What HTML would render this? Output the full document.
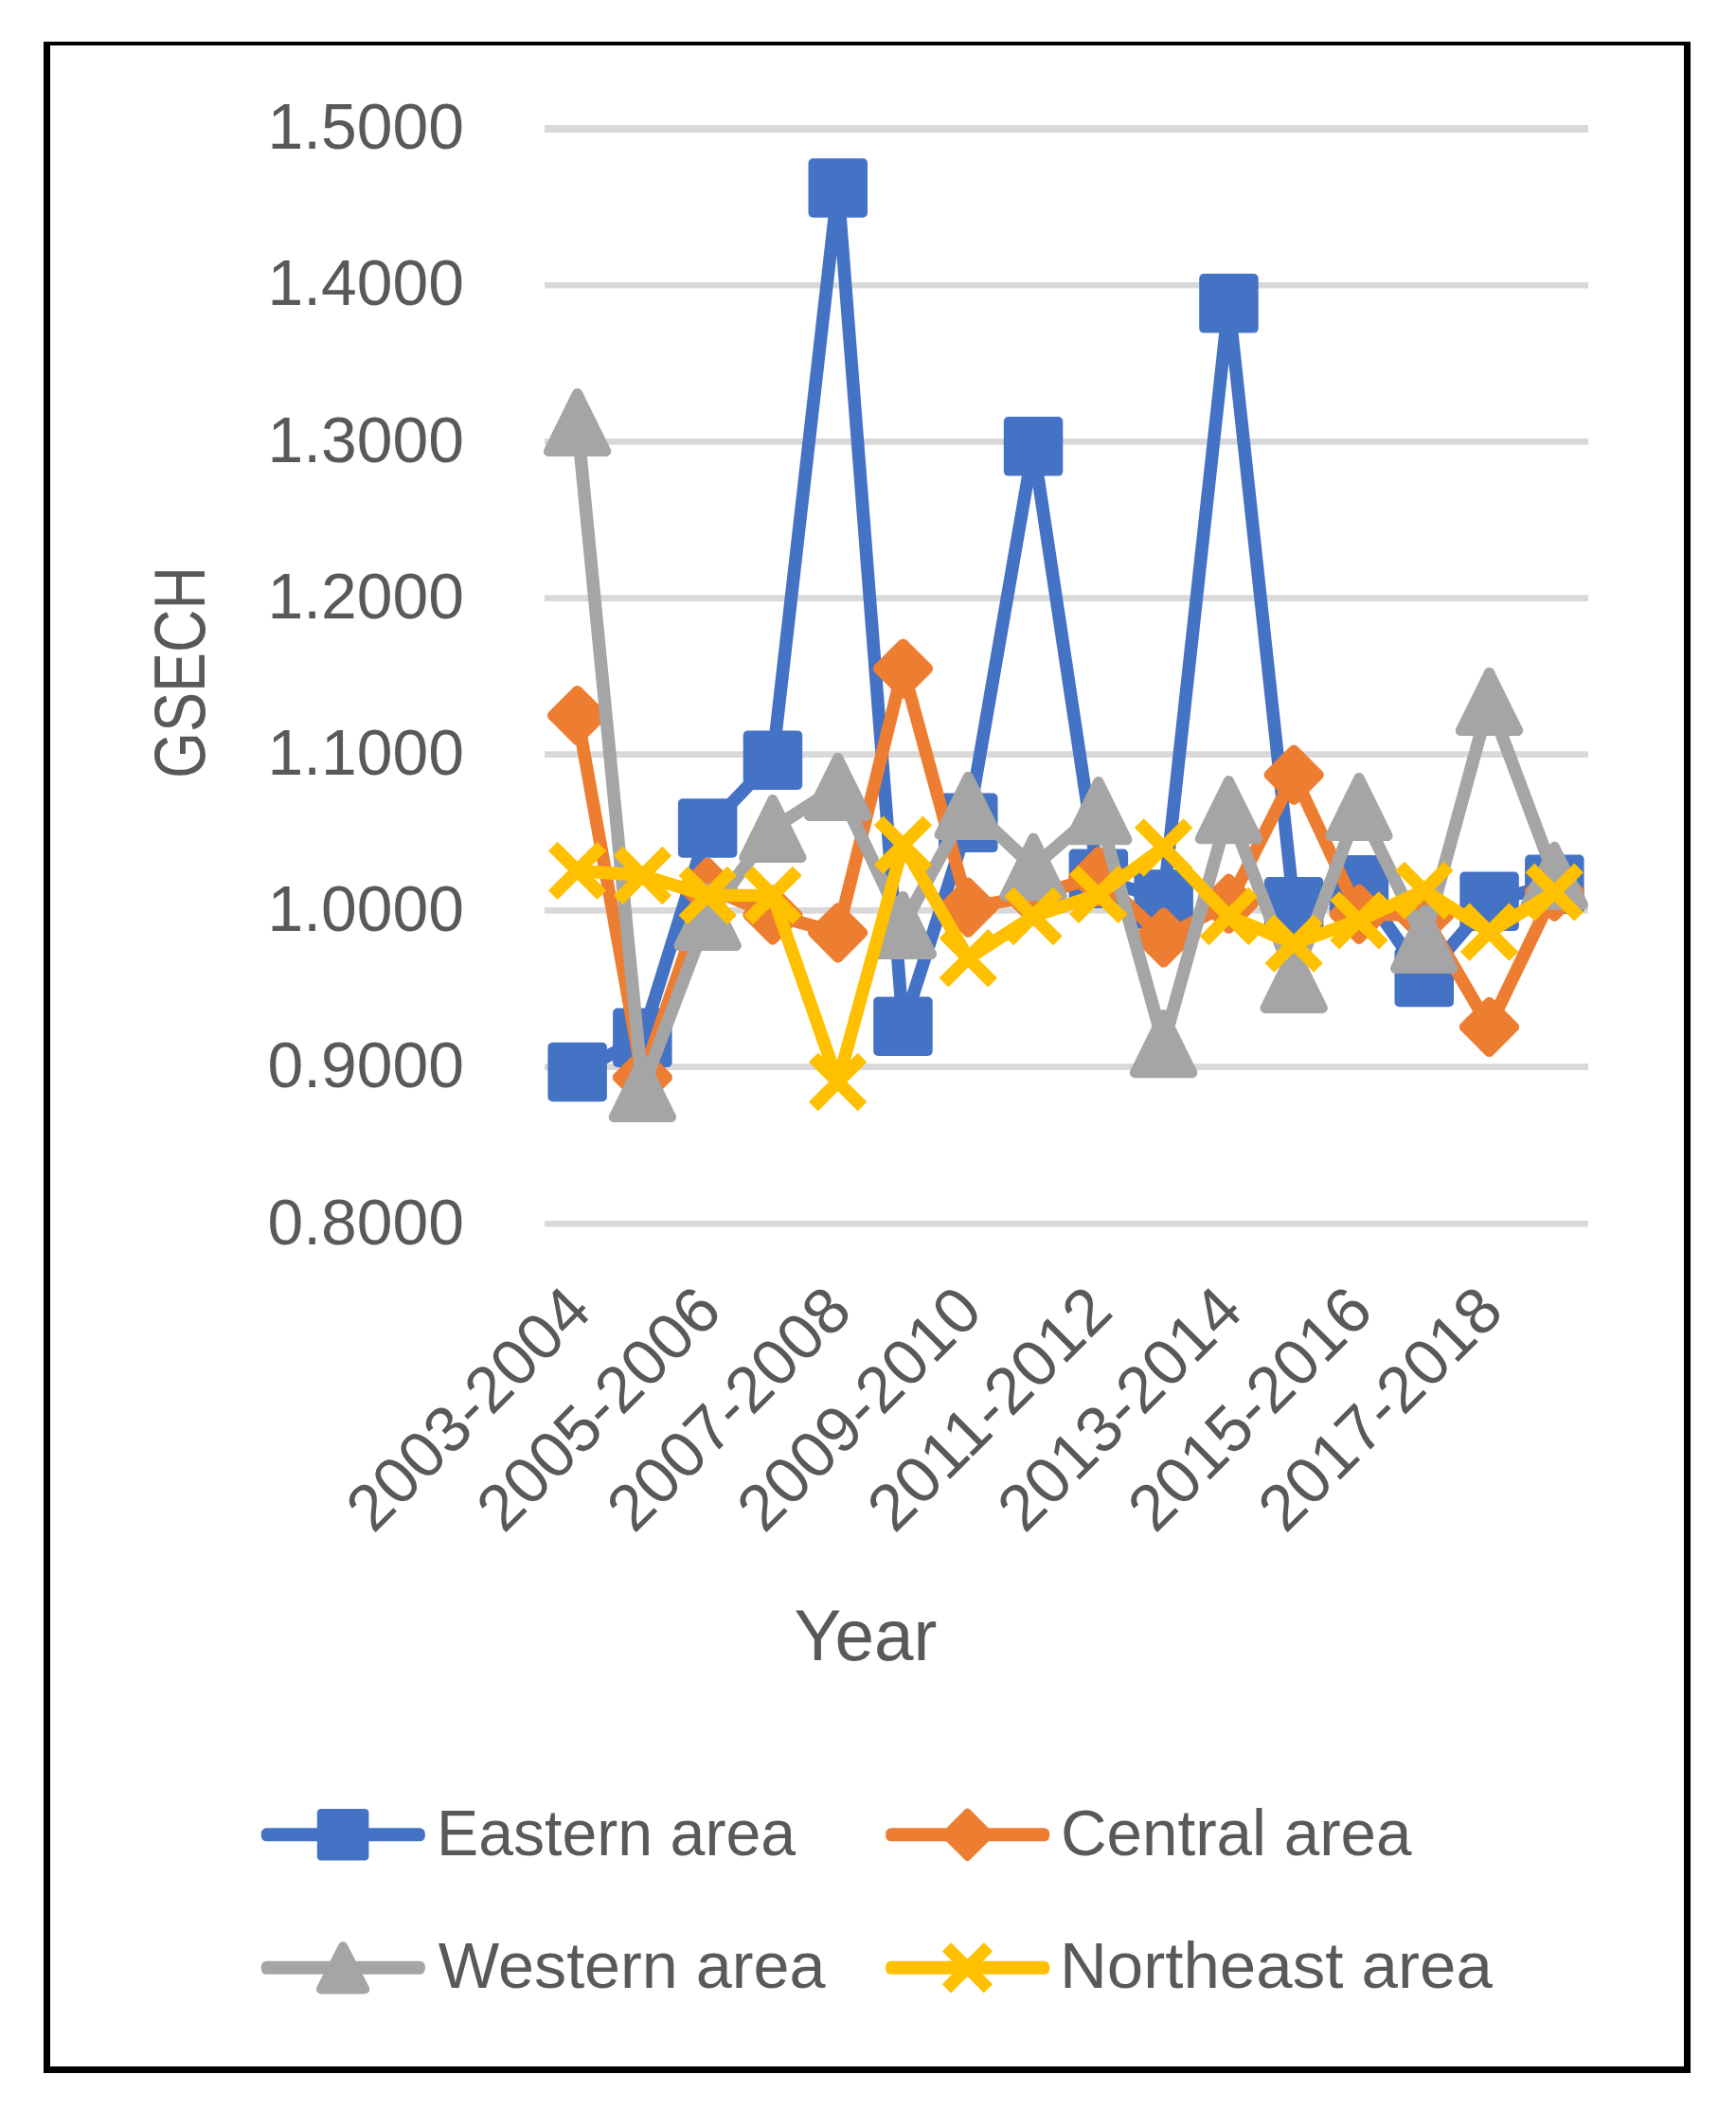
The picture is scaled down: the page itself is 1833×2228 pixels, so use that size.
<!DOCTYPE html>
<html lang="en"><head><meta charset="utf-8"><title>GSECH by area</title>
<style>html,body{margin:0;padding:0;background:#fff}svg{display:block}text{font-family:"Liberation Sans",sans-serif;fill:#595959}</style>
</head><body>
<svg width="1833" height="2228" viewBox="0 0 1833 2228">
<rect width="1833" height="2228" fill="#fff"/>
<g fill="#000">
<rect x="46" y="44" width="7" height="2145"/>
<rect x="1778" y="44" width="7" height="2145"/>
<rect x="46" y="44" width="1739" height="4"/>
<rect x="46" y="2182" width="1739" height="7"/>
</g>
<g stroke="#D9D9D9" stroke-width="6.6">
<line x1="575" y1="135.9" x2="1677" y2="135.9" stroke-width="8"/>
<line x1="575" y1="301.2" x2="1677" y2="301.2"/>
<line x1="575" y1="466.4" x2="1677" y2="466.4"/>
<line x1="575" y1="631.6" x2="1677" y2="631.6"/>
<line x1="575" y1="796.6" x2="1677" y2="796.6"/>
<line x1="575" y1="961.4" x2="1677" y2="961.4"/>
<line x1="575" y1="1126.6" x2="1677" y2="1126.6"/>
<line x1="575" y1="1292.3" x2="1677" y2="1292.3"/>
</g>
<g font-size="68.5" text-anchor="end">
<text x="490" y="157.1" textLength="207.5" lengthAdjust="spacingAndGlyphs">1.5000</text>
<text x="490" y="322.4" textLength="207.5" lengthAdjust="spacingAndGlyphs">1.4000</text>
<text x="490" y="487.6" textLength="207.5" lengthAdjust="spacingAndGlyphs">1.3000</text>
<text x="490" y="652.8" textLength="207.5" lengthAdjust="spacingAndGlyphs">1.2000</text>
<text x="490" y="817.8" textLength="207.5" lengthAdjust="spacingAndGlyphs">1.1000</text>
<text x="490" y="982.6" textLength="207.5" lengthAdjust="spacingAndGlyphs">1.0000</text>
<text x="490" y="1147.8" textLength="207.5" lengthAdjust="spacingAndGlyphs">0.9000</text>
<text x="490" y="1313.5" textLength="207.5" lengthAdjust="spacingAndGlyphs">0.8000</text>
</g>
<g font-size="68.5" text-anchor="end">
<text transform="translate(627.3,1387.5) rotate(-45)" textLength="329.5" lengthAdjust="spacingAndGlyphs">2003-2004</text>
<text transform="translate(764.9,1387.5) rotate(-45)" textLength="329.5" lengthAdjust="spacingAndGlyphs">2005-2006</text>
<text transform="translate(902.4,1387.5) rotate(-45)" textLength="329.5" lengthAdjust="spacingAndGlyphs">2007-2008</text>
<text transform="translate(1040,1387.5) rotate(-45)" textLength="329.5" lengthAdjust="spacingAndGlyphs">2009-2010</text>
<text transform="translate(1177.5,1387.5) rotate(-45)" textLength="329.5" lengthAdjust="spacingAndGlyphs">2011-2012</text>
<text transform="translate(1315.1,1387.5) rotate(-45)" textLength="329.5" lengthAdjust="spacingAndGlyphs">2013-2014</text>
<text transform="translate(1452.7,1387.5) rotate(-45)" textLength="329.5" lengthAdjust="spacingAndGlyphs">2015-2016</text>
<text transform="translate(1590.2,1387.5) rotate(-45)" textLength="329.5" lengthAdjust="spacingAndGlyphs">2017-2018</text>
</g>
<text x="914" y="1752.5" font-size="76" text-anchor="middle" textLength="151" lengthAdjust="spacingAndGlyphs">Year</text>
<text transform="translate(215.7,710) rotate(-90)" font-size="76" text-anchor="middle" textLength="224.2" lengthAdjust="spacingAndGlyphs">GSECH</text>
<g>
<polyline points="609.6,1131.9 678.4,1095.8 747.2,874.5 815.9,802.6 884.7,198.4 953.5,1083.8 1022.3,868.9 1091.1,471.4 1159.8,927.8 1228.6,949.5 1297.4,320.4 1366.2,957.2 1435,934.2 1503.7,1032 1572.5,951.9 1641.3,933.7" fill="none" stroke="#4472C4" stroke-width="13.6" stroke-linejoin="round" stroke-linecap="round"/>
<rect x="578.4" y="1100.7" width="62.5" height="62.5" rx="5" ry="5" fill="#4472C4"/>
<rect x="647.1" y="1064.5" width="62.5" height="62.5" rx="5" ry="5" fill="#4472C4"/>
<rect x="715.9" y="843.2" width="62.5" height="62.5" rx="5" ry="5" fill="#4472C4"/>
<rect x="784.7" y="771.4" width="62.5" height="62.5" rx="5" ry="5" fill="#4472C4"/>
<rect x="853.5" y="167.2" width="62.5" height="62.5" rx="5" ry="5" fill="#4472C4"/>
<rect x="922.2" y="1052.5" width="62.5" height="62.5" rx="5" ry="5" fill="#4472C4"/>
<rect x="991" y="837.6" width="62.5" height="62.5" rx="5" ry="5" fill="#4472C4"/>
<rect x="1059.8" y="440.1" width="62.5" height="62.5" rx="5" ry="5" fill="#4472C4"/>
<rect x="1128.6" y="896.5" width="62.5" height="62.5" rx="5" ry="5" fill="#4472C4"/>
<rect x="1197.4" y="918.2" width="62.5" height="62.5" rx="5" ry="5" fill="#4472C4"/>
<rect x="1266.2" y="289.1" width="62.5" height="62.5" rx="5" ry="5" fill="#4472C4"/>
<rect x="1334.9" y="926" width="62.5" height="62.5" rx="5" ry="5" fill="#4472C4"/>
<rect x="1403.7" y="903" width="62.5" height="62.5" rx="5" ry="5" fill="#4472C4"/>
<rect x="1472.5" y="1000.8" width="62.5" height="62.5" rx="5" ry="5" fill="#4472C4"/>
<rect x="1541.3" y="920.6" width="62.5" height="62.5" rx="5" ry="5" fill="#4472C4"/>
<rect x="1610.1" y="902.5" width="62.5" height="62.5" rx="5" ry="5" fill="#4472C4"/>
</g>
<g>
<polyline points="609.6,755.5 678.4,1137.7 747.2,937 815.9,966.1 884.7,984.9 953.5,706 1022.3,958.2 1091.1,946.1 1159.8,925.6 1228.6,990 1297.4,954.2 1366.2,818.2 1435,965.3 1503.7,966.5 1572.5,1084.4 1641.3,941.3" fill="none" stroke="#ED7D31" stroke-width="13.6" stroke-linejoin="round" stroke-linecap="round"/>
<polygon points="609.6,729.4 635.7,755.5 609.6,781.6 583.5,755.5" fill="#ED7D31" stroke="#ED7D31" stroke-width="11" stroke-linejoin="round"/>
<polygon points="678.4,1111.6 704.5,1137.7 678.4,1163.8 652.3,1137.7" fill="#ED7D31" stroke="#ED7D31" stroke-width="11" stroke-linejoin="round"/>
<polygon points="747.2,910.9 773.3,937 747.2,963.1 721.1,937" fill="#ED7D31" stroke="#ED7D31" stroke-width="11" stroke-linejoin="round"/>
<polygon points="815.9,940 842,966.1 815.9,992.2 789.8,966.1" fill="#ED7D31" stroke="#ED7D31" stroke-width="11" stroke-linejoin="round"/>
<polygon points="884.7,958.8 910.8,984.9 884.7,1011 858.6,984.9" fill="#ED7D31" stroke="#ED7D31" stroke-width="11" stroke-linejoin="round"/>
<polygon points="953.5,679.9 979.6,706 953.5,732.1 927.4,706" fill="#ED7D31" stroke="#ED7D31" stroke-width="11" stroke-linejoin="round"/>
<polygon points="1022.3,932.1 1048.4,958.2 1022.3,984.3 996.2,958.2" fill="#ED7D31" stroke="#ED7D31" stroke-width="11" stroke-linejoin="round"/>
<polygon points="1091.1,920 1117.2,946.1 1091.1,972.2 1065,946.1" fill="#ED7D31" stroke="#ED7D31" stroke-width="11" stroke-linejoin="round"/>
<polygon points="1159.8,899.5 1185.9,925.6 1159.8,951.7 1133.7,925.6" fill="#ED7D31" stroke="#ED7D31" stroke-width="11" stroke-linejoin="round"/>
<polygon points="1228.6,963.9 1254.7,990 1228.6,1016.1 1202.5,990" fill="#ED7D31" stroke="#ED7D31" stroke-width="11" stroke-linejoin="round"/>
<polygon points="1297.4,928.1 1323.5,954.2 1297.4,980.3 1271.3,954.2" fill="#ED7D31" stroke="#ED7D31" stroke-width="11" stroke-linejoin="round"/>
<polygon points="1366.2,792.1 1392.3,818.2 1366.2,844.3 1340.1,818.2" fill="#ED7D31" stroke="#ED7D31" stroke-width="11" stroke-linejoin="round"/>
<polygon points="1435,939.2 1461.1,965.3 1435,991.4 1408.9,965.3" fill="#ED7D31" stroke="#ED7D31" stroke-width="11" stroke-linejoin="round"/>
<polygon points="1503.7,940.4 1529.8,966.5 1503.7,992.6 1477.6,966.5" fill="#ED7D31" stroke="#ED7D31" stroke-width="11" stroke-linejoin="round"/>
<polygon points="1572.5,1058.3 1598.6,1084.4 1572.5,1110.5 1546.4,1084.4" fill="#ED7D31" stroke="#ED7D31" stroke-width="11" stroke-linejoin="round"/>
<polygon points="1641.3,915.2 1667.4,941.3 1641.3,967.4 1615.2,941.3" fill="#ED7D31" stroke="#ED7D31" stroke-width="11" stroke-linejoin="round"/>
</g>
<g>
<polyline points="609.6,446 678.4,1149 747.2,968 815.9,875 884.7,830.8 953.5,977 1022.3,850.8 1091.1,915.5 1159.8,856.1 1228.6,1102.1 1297.4,855.1 1366.2,1033.8 1435,852 1503.7,992 1572.5,740.9 1641.3,924.7" fill="none" stroke="#A5A5A5" stroke-width="13.6" stroke-linejoin="round" stroke-linecap="round"/>
<polygon points="609.6,415.4 639.8,476.6 579.4,476.6" fill="#A5A5A5" stroke="#A5A5A5" stroke-width="11" stroke-linejoin="round"/>
<polygon points="678.4,1118.4 708.6,1179.6 648.2,1179.6" fill="#A5A5A5" stroke="#A5A5A5" stroke-width="11" stroke-linejoin="round"/>
<polygon points="747.2,937.4 777.4,998.6 717,998.6" fill="#A5A5A5" stroke="#A5A5A5" stroke-width="11" stroke-linejoin="round"/>
<polygon points="815.9,844.4 846.1,905.6 785.7,905.6" fill="#A5A5A5" stroke="#A5A5A5" stroke-width="11" stroke-linejoin="round"/>
<polygon points="884.7,800.2 914.9,861.4 854.5,861.4" fill="#A5A5A5" stroke="#A5A5A5" stroke-width="11" stroke-linejoin="round"/>
<polygon points="953.5,946.4 983.7,1007.6 923.3,1007.6" fill="#A5A5A5" stroke="#A5A5A5" stroke-width="11" stroke-linejoin="round"/>
<polygon points="1022.3,820.2 1052.5,881.4 992.1,881.4" fill="#A5A5A5" stroke="#A5A5A5" stroke-width="11" stroke-linejoin="round"/>
<polygon points="1091.1,884.9 1121.3,946.1 1060.9,946.1" fill="#A5A5A5" stroke="#A5A5A5" stroke-width="11" stroke-linejoin="round"/>
<polygon points="1159.8,825.5 1190,886.7 1129.6,886.7" fill="#A5A5A5" stroke="#A5A5A5" stroke-width="11" stroke-linejoin="round"/>
<polygon points="1228.6,1071.5 1258.8,1132.7 1198.4,1132.7" fill="#A5A5A5" stroke="#A5A5A5" stroke-width="11" stroke-linejoin="round"/>
<polygon points="1297.4,824.5 1327.6,885.7 1267.2,885.7" fill="#A5A5A5" stroke="#A5A5A5" stroke-width="11" stroke-linejoin="round"/>
<polygon points="1366.2,1003.2 1396.4,1064.4 1336,1064.4" fill="#A5A5A5" stroke="#A5A5A5" stroke-width="11" stroke-linejoin="round"/>
<polygon points="1435,821.4 1465.2,882.6 1404.8,882.6" fill="#A5A5A5" stroke="#A5A5A5" stroke-width="11" stroke-linejoin="round"/>
<polygon points="1503.7,961.4 1533.9,1022.6 1473.5,1022.6" fill="#A5A5A5" stroke="#A5A5A5" stroke-width="11" stroke-linejoin="round"/>
<polygon points="1572.5,710.3 1602.7,771.5 1542.3,771.5" fill="#A5A5A5" stroke="#A5A5A5" stroke-width="11" stroke-linejoin="round"/>
<polygon points="1641.3,894.1 1671.5,955.3 1611.1,955.3" fill="#A5A5A5" stroke="#A5A5A5" stroke-width="11" stroke-linejoin="round"/>
</g>
<g>
<polyline points="609.6,919.4 678.4,924.5 747.2,945.5 815.9,945.5 884.7,1142.5 953.5,892.2 1022.3,1011.7 1091.1,967.5 1159.8,944.4 1228.6,895 1297.4,967.5 1366.2,996.1 1435,971.8 1503.7,940.3 1572.5,984.1 1641.3,942.1" fill="none" stroke="#FFC000" stroke-width="13.6" stroke-linejoin="round" stroke-linecap="round"/>
<path d="M583.8 893.6L635.4 945.2M583.8 945.2L635.4 893.6" fill="none" stroke="#FFC000" stroke-width="13.8"/>
<path d="M652.6 898.7L704.2 950.3M652.6 950.3L704.2 898.7" fill="none" stroke="#FFC000" stroke-width="13.8"/>
<path d="M721.4 919.7L772.9 971.3M721.4 971.3L772.9 919.7" fill="none" stroke="#FFC000" stroke-width="13.8"/>
<path d="M790.2 919.7L841.7 971.3M790.2 971.3L841.7 919.7" fill="none" stroke="#FFC000" stroke-width="13.8"/>
<path d="M858.9 1116.7L910.5 1168.3M858.9 1168.3L910.5 1116.7" fill="none" stroke="#FFC000" stroke-width="13.8"/>
<path d="M927.7 866.4L979.3 918M927.7 918L979.3 866.4" fill="none" stroke="#FFC000" stroke-width="13.8"/>
<path d="M996.5 985.9L1048.1 1037.5M996.5 1037.5L1048.1 985.9" fill="none" stroke="#FFC000" stroke-width="13.8"/>
<path d="M1065.3 941.7L1116.8 993.3M1065.3 993.3L1116.8 941.7" fill="none" stroke="#FFC000" stroke-width="13.8"/>
<path d="M1134.1 918.6L1185.6 970.2M1134.1 970.2L1185.6 918.6" fill="none" stroke="#FFC000" stroke-width="13.8"/>
<path d="M1202.8 869.2L1254.4 920.8M1202.8 920.8L1254.4 869.2" fill="none" stroke="#FFC000" stroke-width="13.8"/>
<path d="M1271.6 941.7L1323.2 993.3M1271.6 993.3L1323.2 941.7" fill="none" stroke="#FFC000" stroke-width="13.8"/>
<path d="M1340.4 970.3L1392 1021.9M1340.4 1021.9L1392 970.3" fill="none" stroke="#FFC000" stroke-width="13.8"/>
<path d="M1409.2 946L1460.7 997.6M1409.2 997.6L1460.7 946" fill="none" stroke="#FFC000" stroke-width="13.8"/>
<path d="M1478 914.5L1529.5 966.1M1478 966.1L1529.5 914.5" fill="none" stroke="#FFC000" stroke-width="13.8"/>
<path d="M1546.7 958.3L1598.3 1009.9M1546.7 1009.9L1598.3 958.3" fill="none" stroke="#FFC000" stroke-width="13.8"/>
<path d="M1615.5 916.3L1667.1 967.9M1615.5 967.9L1667.1 916.3" fill="none" stroke="#FFC000" stroke-width="13.8"/>
</g>
<rect x="275.8" y="1930.3" width="173" height="14" rx="5.5" ry="5.5" fill="#4472C4"/>
<rect x="334.8" y="1910" width="54.6" height="54.6" rx="4.2" ry="4.2" fill="#4472C4"/>
<text x="461" y="1958.8" font-size="68.5" textLength="379.1" lengthAdjust="spacingAndGlyphs">Eastern area</text>
<rect x="935.2" y="1930.3" width="173" height="14" rx="5.5" ry="5.5" fill="#ED7D31"/>
<polygon points="1021.5,1913.7 1045.1,1937.3 1021.5,1960.9 997.9,1937.3" fill="#ED7D31" stroke="#ED7D31" stroke-width="8" stroke-linejoin="round"/>
<text x="1119.9" y="1958.8" font-size="68.5" textLength="370.6" lengthAdjust="spacingAndGlyphs">Central area</text>
<rect x="275.8" y="2070.8" width="173" height="14" rx="5.5" ry="5.5" fill="#A5A5A5"/>
<polygon points="362.1,2055.2 385.2,2100.4 339,2100.4" fill="#A5A5A5" stroke="#A5A5A5" stroke-width="10" stroke-linejoin="round"/>
<text x="462.8" y="2099.3" font-size="68.5" textLength="408.7" lengthAdjust="spacingAndGlyphs">Western area</text>
<rect x="935.2" y="2070.8" width="173" height="14" rx="5.5" ry="5.5" fill="#FFC000"/>
<path d="M999.5 2055.8L1043.5 2099.8M999.5 2099.8L1043.5 2055.8" fill="none" stroke="#FFC000" stroke-width="13"/>
<text x="1119" y="2099.3" font-size="68.5" textLength="456.8" lengthAdjust="spacingAndGlyphs">Northeast area</text>
</svg>
</body></html>
